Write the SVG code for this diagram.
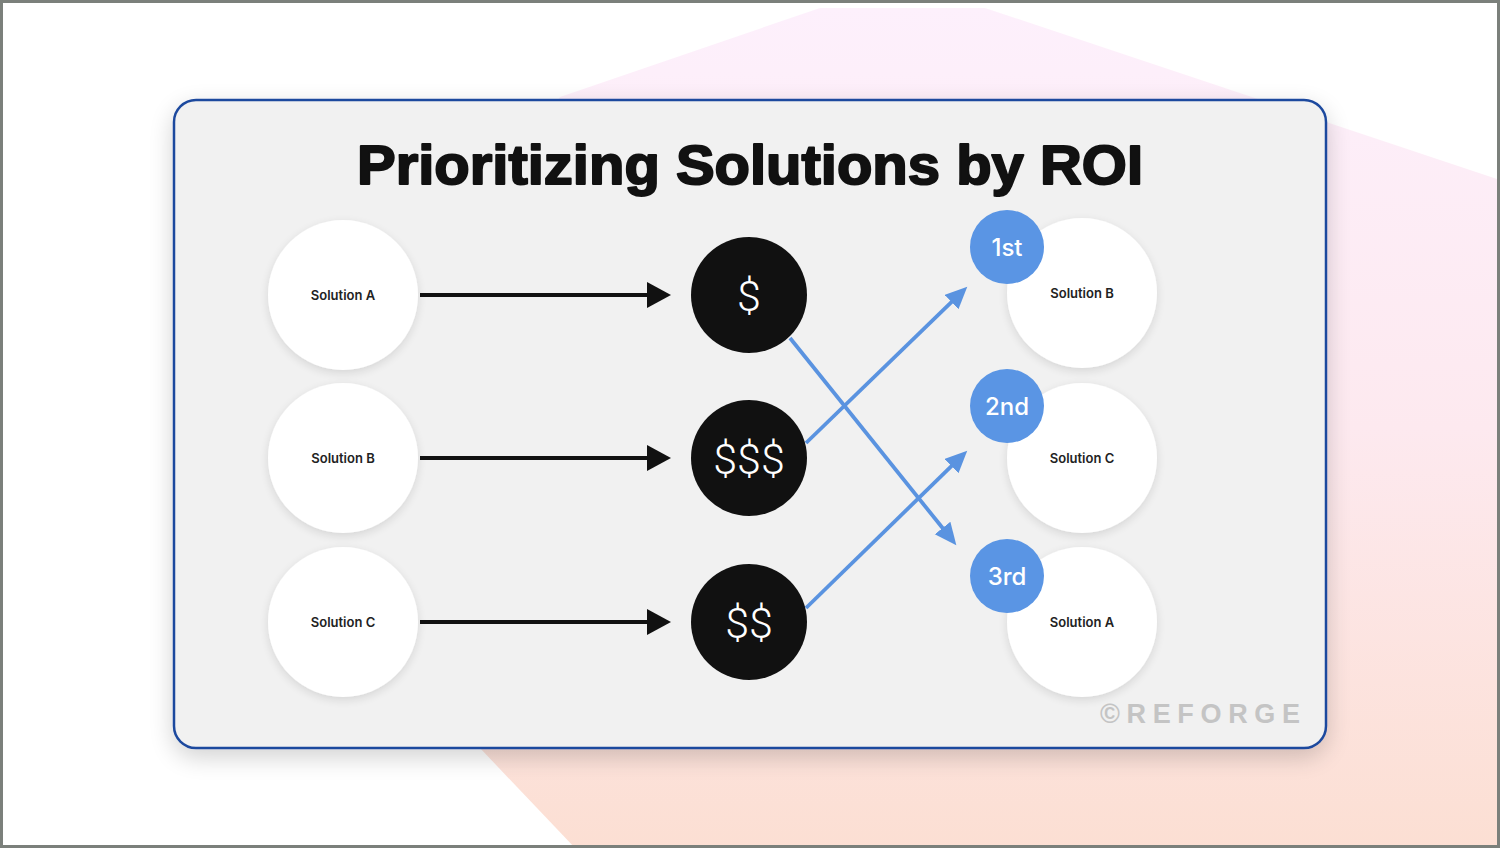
<svg xmlns="http://www.w3.org/2000/svg" width="1500" height="848" viewBox="0 0 1500 848">
  <defs>
    <linearGradient id="bgGrad" x1="0" y1="0" x2="0" y2="1">
      <stop offset="0" stop-color="#fdf0fc"/>
      <stop offset="0.5" stop-color="#fde9ef"/>
      <stop offset="1" stop-color="#fcdfd3"/>
    </linearGradient>
    <filter id="cardShadow" x="-10%" y="-10%" width="120%" height="125%">
      <feGaussianBlur in="SourceAlpha" stdDeviation="12"/>
      <feOffset dx="0" dy="8" result="b"/>
      <feComponentTransfer><feFuncA type="linear" slope="0.18"/></feComponentTransfer>
      <feMerge><feMergeNode/><feMergeNode in="SourceGraphic"/></feMerge>
    </filter>
    <filter id="circShadow" x="-30%" y="-30%" width="160%" height="160%">
      <feGaussianBlur in="SourceAlpha" stdDeviation="5"/>
      <feOffset dx="0" dy="3" result="b"/>
      <feComponentTransfer><feFuncA type="linear" slope="0.12"/></feComponentTransfer>
      <feMerge><feMergeNode/><feMergeNode in="SourceGraphic"/></feMerge>
    </filter>
    <marker id="blackHead" markerUnits="userSpaceOnUse" markerWidth="26" markerHeight="28" refX="1" refY="13" orient="auto">
      <path d="M0,0 L24,13 L0,26 z" fill="#111"/>
    </marker>
    <marker id="blueHead" markerUnits="userSpaceOnUse" markerWidth="24" markerHeight="22" refX="1" refY="10" orient="auto">
      <path d="M0,0 L22,10 L0,20 z" fill="#5a93e0"/>
    </marker>
  </defs>
  <style>
    .sol { fill: #ffffff; }
    .solText { font-family: Inter, "Liberation Sans", sans-serif; font-weight: 600; font-size: 13px; fill: #222; text-anchor: middle; }
    .cost { fill: #111111; }
    .costText { font-family: Roboto, "Liberation Sans", sans-serif; font-weight: 300; font-size: 43px; fill: #ffffff; text-anchor: middle; }
    .badge { fill: #5a95e4; }
    .badgeText { font-family: Inter, "Liberation Sans", sans-serif; font-weight: 500; font-size: 24px; fill: #ffffff; text-anchor: middle; }
    .blackArrow { stroke: #111; stroke-width: 4; fill: none; }
    .blueArrow { stroke: #5a93e0; stroke-width: 3.8; fill: none; }
  </style>

  <!-- background -->
  <rect x="0" y="0" width="1500" height="848" fill="#ffffff"/>
  <polygon points="820,8 985,8 1500,180 1500,848 575,848 440,706 420,300 560,97" fill="url(#bgGrad)"/>
  <rect x="1.5" y="1.5" width="1497" height="845" fill="none" stroke="#7b807b" stroke-width="3"/>

  <!-- card -->
  <g id="card">
    <rect x="174" y="100" width="1152" height="648" rx="22" ry="22" fill="#f1f1f1" stroke="#1f4a9e" stroke-width="2.5" filter="url(#cardShadow)"/>
    <text x="750" y="184" font-family="'Liberation Sans', Arial, sans-serif" font-weight="bold" font-size="56" fill="#111" stroke="#111" stroke-width="2" stroke-linejoin="round" text-anchor="middle" textLength="786" lengthAdjust="spacingAndGlyphs">Prioritizing Solutions by ROI</text>
    <text x="1100" y="723" font-family="'Liberation Sans', Arial, sans-serif" font-weight="bold" font-size="27" fill="#c4c4c4" textLength="200" lengthAdjust="spacing">©REFORGE</text>
  </g>

  <!-- connectors -->
  <g id="connectors">
    <line class="blackArrow" x1="420" y1="295" x2="648" y2="295" marker-end="url(#blackHead)"/>
    <line class="blackArrow" x1="420" y1="458" x2="648" y2="458" marker-end="url(#blackHead)"/>
    <line class="blackArrow" x1="420" y1="622" x2="648" y2="622" marker-end="url(#blackHead)"/>
    <line class="blueArrow" x1="806" y1="443" x2="952.2" y2="301.3" marker-end="url(#blueHead)"/>
    <line class="blueArrow" x1="790" y1="338" x2="943.2" y2="528.8" marker-end="url(#blueHead)"/>
    <line class="blueArrow" x1="806" y1="608" x2="952.2" y2="465.4" marker-end="url(#blueHead)"/>
  </g>

  <!-- left nodes -->
  <g id="left-solution-a">
    <circle class="sol" cx="343" cy="295" r="75" filter="url(#circShadow)"/>
    <text class="solText" x="343" y="300">Solution A</text>
  </g>
  <g id="left-solution-b">
    <circle class="sol" cx="343" cy="458" r="75" filter="url(#circShadow)"/>
    <text class="solText" x="343" y="463">Solution B</text>
  </g>
  <g id="left-solution-c">
    <circle class="sol" cx="343" cy="622" r="75" filter="url(#circShadow)"/>
    <text class="solText" x="343" y="627">Solution C</text>
  </g>

  <!-- cost nodes -->
  <g id="cost-1">
    <circle class="cost" cx="749" cy="295" r="58"/>
    <text class="costText" x="749" y="311">$</text>
  </g>
  <g id="cost-3">
    <circle class="cost" cx="749" cy="458" r="58"/>
    <text class="costText" x="749" y="474">$$$</text>
  </g>
  <g id="cost-2">
    <circle class="cost" cx="749" cy="622" r="58"/>
    <text class="costText" x="749" y="638">$$</text>
  </g>

  <!-- right nodes -->
  <g id="right-solution-b">
    <circle class="sol" cx="1082" cy="293" r="75" filter="url(#circShadow)"/>
    <text class="solText" x="1082" y="298">Solution B</text>
  </g>
  <g id="right-solution-c">
    <circle class="sol" cx="1082" cy="458" r="75" filter="url(#circShadow)"/>
    <text class="solText" x="1082" y="463">Solution C</text>
  </g>
  <g id="right-solution-a">
    <circle class="sol" cx="1082" cy="622" r="75" filter="url(#circShadow)"/>
    <text class="solText" x="1082" y="627">Solution A</text>
  </g>

  <!-- badges -->
  <g id="badge-1st">
    <circle class="badge" cx="1007" cy="247" r="37"/>
    <text class="badgeText" x="1007" y="256">1st</text>
  </g>
  <g id="badge-2nd">
    <circle class="badge" cx="1007" cy="406" r="37"/>
    <text class="badgeText" x="1007" y="415">2nd</text>
  </g>
  <g id="badge-3rd">
    <circle class="badge" cx="1007" cy="576" r="37"/>
    <text class="badgeText" x="1007" y="585">3rd</text>
  </g>
</svg>
